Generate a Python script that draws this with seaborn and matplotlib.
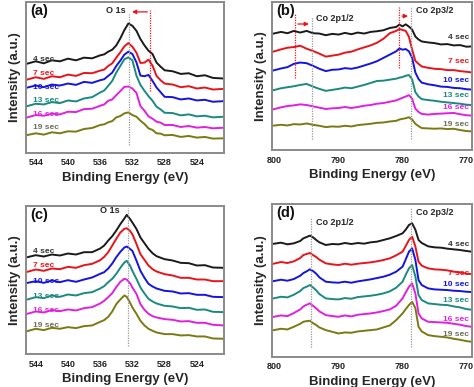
import numpy as np
import matplotlib
matplotlib.use("Agg")
import matplotlib.pyplot as plt
import seaborn as sns

sns.set_theme(style="white")
plt.rcParams['font.family'] = ['Liberation Sans', 'DejaVu Sans']
plt.rcParams['font.weight'] = 'bold'

# ---- data (intensities in arbitrary units) ----
times = ["4 sec", "7 sec", "10 sec", "13 sec", "16 sec", "19 sec"]
colors = ["#1a1a1a", "#e8141c", "#1414e0", "#1a8a80", "#e020e0", "#7a7a12"]
label_colors = ["#333333", "#e8141c", "#1414e0", "#1a8a80", "#e020e0", "#6e6e5a"]

# (a) O 1s
a_x = [545.2, 544, 543, 542, 541, 540, 539, 538, 537, 536, 535.5, 535, 534.5, 534,
       533.5, 533, 532.5, 532, 531.5, 531, 530.5, 530, 529.5, 529, 528.5, 528,
       527, 526, 525, 524, 523, 522, 520.6]
a_4s = [268, 276, 270, 279, 276, 284, 279, 287, 285, 294, 297, 305, 311, 324, 345, 370, 390,
        383, 368, 343, 324, 308, 298, 272, 260, 249, 246, 238, 240, 231, 234, 226, 224]
a_7s = [220, 228, 223, 231, 228, 236, 232, 241, 240, 248, 251, 262, 270, 287, 303, 321, 331,
        320, 302, 271, 272, 281, 263, 232, 219, 209, 206, 198, 201, 194, 197, 191, 193]
a_10s = [196, 203, 198, 206, 203, 209, 205, 214, 211, 219, 222, 232, 242, 262, 278, 296, 305,
         298, 273, 233, 231, 235, 217, 197, 183, 169, 168, 161, 164, 158, 160, 154, 156]
a_13s = [140, 148, 146, 153, 150, 158, 155, 164, 168, 182, 188, 202, 217, 242, 262, 282, 288,
         279, 233, 205, 187, 171, 157, 139, 131, 121, 120, 113, 116, 110, 112, 107, 109]
a_16s = [106, 114, 112, 118, 116, 124, 123, 132, 133, 142, 146, 157, 161, 174, 186, 199, 200,
         194, 181, 141, 127, 110, 103, 94, 91, 84, 84, 78, 81, 76, 78, 74, 76]
a_19s = [53, 59, 55, 62, 59, 65, 64, 72, 75, 84, 86, 92, 96, 107, 111, 119, 122,
         114, 109, 97, 87, 74, 69, 59, 58, 53, 54, 48, 51, 46, 48, 43, 44]

# (b) Co 2p
b_x = [800.4, 799, 798, 797, 796, 795, 794, 793, 792, 791, 790, 789, 788, 787, 786, 785,
       784, 783, 782, 781, 780.5, 780, 779.5, 779, 778.5, 778, 777.5, 777, 776, 775,
       774, 773, 772, 771, 770, 769.2]
b_4s = [353, 359, 355, 362, 357, 362, 355, 354, 349, 353, 351, 356, 352, 357, 354, 359, 361, 364,
        371, 374, 381, 376, 382, 375, 366, 345, 336, 330, 327, 325, 321, 322, 318, 319, 314, 315]
b_7s = [298, 306, 311, 313, 317, 308, 301, 293, 284, 287, 290, 296, 299, 306, 312, 318, 326, 338,
        355, 362, 368, 365, 362, 344, 305, 271, 262, 254, 250, 247, 246, 243, 243, 240, 238, 236]
b_10s = [241, 248, 252, 262, 266, 264, 256, 247, 240, 244, 245, 249, 247, 251, 257, 263, 270, 280,
         290, 300, 309, 305, 307, 300, 280, 236, 216, 205, 200, 197, 193, 192, 189, 188, 185, 184]
b_13s = [181, 188, 191, 194, 198, 201, 193, 186, 180, 183, 186, 190, 188, 193, 198, 204, 210, 211,
         214, 217, 220, 222, 226, 228, 215, 176, 163, 155, 152, 150, 147, 145, 143, 141, 138, 137]
b_16s = [123, 130, 134, 136, 139, 137, 133, 129, 125, 127, 128, 131, 128, 131, 135, 137, 141, 143,
         147, 151, 155, 159, 163, 167, 156, 126, 116, 110, 108, 110, 111, 112, 113, 109, 106, 105]
b_19s = [74, 77, 75, 79, 78, 81, 77, 74, 70, 72, 71, 74, 72, 76, 78, 80, 83, 84,
         87, 89, 93, 95, 97, 100, 93, 80, 73, 67, 66, 65, 66, 64, 65, 61, 58, 57]

# (c) O 1s
c_x = [545.2, 544, 543, 542, 541, 540, 539, 538, 537, 536, 535.5, 535, 534.5, 534,
       533.5, 533, 532.7, 532.3, 532, 531.5, 531, 530.5, 530, 529.5, 529, 528,
       527, 526, 525, 524, 523, 522, 520.6]
c_4s = [290, 297, 293, 299, 296, 302, 299, 306, 306, 317, 326, 341, 354, 371, 390, 407, 418,
        406, 395, 376, 350, 333, 316, 303, 294, 285, 281, 274, 273, 266, 267, 260, 259]
c_7s = [246, 254, 250, 257, 255, 262, 259, 267, 271, 282, 292, 306, 326, 346, 365, 376, 378,
        370, 360, 331, 300, 283, 266, 255, 248, 240, 236, 229, 229, 224, 224, 219, 219]
c_10s = [213, 219, 214, 221, 216, 222, 217, 224, 230, 241, 246, 257, 272, 291, 307, 320, 323,
         316, 310, 281, 250, 229, 211, 203, 197, 190, 188, 182, 183, 178, 178, 172, 171]
c_13s = [163, 171, 168, 176, 172, 179, 176, 183, 186, 197, 204, 216, 226, 241, 259, 275, 280,
         266, 250, 226, 200, 182, 166, 158, 152, 145, 143, 138, 139, 133, 134, 127, 126]
c_16s = [120, 128, 125, 132, 129, 134, 131, 138, 141, 152, 160, 171, 183, 201, 217, 226, 224,
         213, 200, 181, 150, 133, 121, 114, 110, 105, 103, 98, 99, 94, 94, 88, 86]
c_19s = [68, 76, 72, 79, 76, 81, 78, 84, 86, 97, 102, 112, 128, 150, 164, 176, 172,
         155, 140, 121, 100, 86, 76, 70, 65, 60, 60, 56, 57, 53, 53, 47, 46]

# (d) Co 2p
d_x = [800.4, 799, 798, 797, 796, 795.5, 795, 794.5, 794, 793.5, 793, 792, 791, 790, 789, 788,
       787, 786, 785, 784, 783, 782, 781, 780, 779.5, 779, 778.5, 778, 777.5, 777, 776,
       775, 774, 773, 772, 771, 770, 769.2]
d_4s = [338, 342, 337, 340, 347, 355, 359, 363, 358, 350, 343, 335, 338, 337, 341, 338, 341, 339, 343,
        345, 350, 355, 362, 370, 381, 395, 400, 381, 350, 341, 331, 328, 327, 324, 322, 320, 317, 315]
d_7s = [278, 284, 281, 286, 296, 305, 308, 311, 305, 299, 291, 280, 277, 275, 279, 276, 279, 281, 283,
        286, 290, 295, 304, 315, 332, 350, 360, 331, 285, 273, 265, 262, 261, 259, 255, 253, 249, 248]
d_10s = [226, 231, 228, 233, 243, 251, 256, 262, 257, 249, 238, 225, 223, 222, 225, 222, 226, 229, 232,
         236, 240, 246, 255, 270, 292, 315, 325, 291, 230, 215, 205, 202, 201, 200, 198, 197, 195, 194]
d_13s = [174, 180, 178, 186, 197, 206, 210, 215, 208, 199, 188, 175, 173, 172, 176, 174, 179, 181, 183,
         186, 190, 196, 207, 225, 246, 265, 275, 241, 185, 170, 160, 158, 156, 155, 151, 148, 143, 141]
d_16s = [119, 124, 122, 131, 142, 151, 156, 160, 153, 145, 136, 125, 122, 120, 124, 121, 126, 128, 130,
         133, 137, 142, 153, 175, 193, 210, 220, 190, 130, 115, 105, 104, 103, 102, 99, 96, 92, 90]
d_19s = [79, 84, 82, 90, 99, 105, 107, 108, 101, 95, 88, 80, 75, 70, 73, 72, 76, 78, 80,
         82, 88, 94, 110, 130, 143, 155, 165, 146, 90, 76, 65, 62, 60, 58, 54, 51, 47, 45]

# label heights (same units as intensities)
a_lab_y = [282, 238, 198, 158, 117, 75]
b_lab_y = [343, 268, 212, 167, 128, 77]
c_lab_y = [307, 267, 218, 172, 130, 87]
d_lab_y = [337, 250, 217, 168, 112, 68]

fig = plt.figure(figsize=(4.74, 3.87), dpi=100)
ax_a = fig.add_axes([0.055, 0.605, 0.418, 0.390])
ax_b = fig.add_axes([0.574, 0.612, 0.421, 0.383])
ax_c = fig.add_axes([0.055, 0.085, 0.418, 0.383])
ax_d = fig.add_axes([0.574, 0.078, 0.421, 0.395])


def style_axis(ax, xlim, ylim, ticks, letter):
    ax.set_xlim(*xlim)
    ax.set_ylim(*ylim)
    ax.set_xticks(ticks)
    ax.set_yticks([])
    ax.tick_params(axis='x', direction='in', length=3, width=1, color='#888888',
                   labelsize=6.5, pad=4, labelcolor='#222222')
    for lab in ax.get_xticklabels():
        lab.set_fontweight('bold')
    for sp in ax.spines.values():
        sp.set_color('#8a8a8a')
        sp.set_linewidth(1.4)
    ax.set_xlabel('Binding Energy (eV)', fontsize=9.5, fontweight='bold', labelpad=3)
    ax.set_ylabel('Intensity (a.u.)', fontsize=9.5, fontweight='bold', labelpad=4)
    ax.text(0.02, 0.985, letter, transform=ax.transAxes, ha='left', va='top',
            fontsize=10.5, fontweight='bold', color='#111111')


def draw_curves(ax, x, curves):
    for ys, c in zip(curves, colors):
        sns.lineplot(x=x, y=ys, ax=ax, color=c, linewidth=1.4, sort=False)


def vline(ax, x, y0, y1, color):
    ax.plot([x, x], [y0, y1], color=color, linestyle=(0, (1, 1)), linewidth=0.9)


# (a)
draw_curves(ax_a, a_x, [a_4s, a_7s, a_10s, a_13s, a_16s, a_19s])
style_axis(ax_a, (545.2, 520.6), (0, 455), [544, 540, 536, 532, 528, 524], '(a)')
vline(ax_a, 532.4, 25, 420, '#999999')
vline(ax_a, 529.8, 185, 430, '#e8141c')
ax_a.annotate('', xy=(532.4, 425), xytext=(529.8, 425),
              arrowprops=dict(arrowstyle='-|>', color='#e8141c', lw=0.9, mutation_scale=6))
ax_a.text(534.1, 428, 'O 1s', ha='center', va='center', fontsize=6.5, fontweight='bold')
for t, c, y in zip(times, label_colors, a_lab_y):
    ax_a.text(544.3, y, t, ha='left', va='center', fontsize=6, fontweight='bold', color=c)

# (b)
draw_curves(ax_b, b_x, [b_4s, b_7s, b_10s, b_13s, b_16s, b_19s])
style_axis(ax_b, (800.4, 769.2), (0, 450), [800, 790, 780, 770], '(b)')
vline(ax_b, 794.2, 35, 405, '#999999')
vline(ax_b, 778.7, 35, 435, '#999999')
vline(ax_b, 796.8, 220, 415, '#e8141c')
vline(ax_b, 780.5, 250, 435, '#e8141c')
ax_b.annotate('', xy=(794.2, 383), xytext=(796.8, 383),
              arrowprops=dict(arrowstyle='-|>', color='#e8141c', lw=0.9, mutation_scale=6))
ax_b.annotate('', xy=(778.7, 407), xytext=(780.5, 407),
              arrowprops=dict(arrowstyle='-|>', color='#e8141c', lw=0.9, mutation_scale=6))
ax_b.text(793.6, 400, 'Co 2p1/2', ha='left', va='center', fontsize=6.5, fontweight='bold')
ax_b.text(777.9, 425, 'Co 2p3/2', ha='left', va='center', fontsize=6.5, fontweight='bold')
for t, c, y in zip(times, label_colors, b_lab_y):
    ax_b.text(769.6, y, t, ha='right', va='center', fontsize=6, fontweight='bold', color=c)

# (c)
draw_curves(ax_c, c_x, [c_4s, c_7s, c_10s, c_13s, c_16s, c_19s])
style_axis(ax_c, (545.2, 520.6), (0, 445), [544, 540, 536, 532, 528, 524], '(c)')
vline(ax_c, 532.5, 25, 440, '#999999')
ax_c.text(534.8, 432, 'O 1s', ha='center', va='center', fontsize=6.5, fontweight='bold')
for t, c, y in zip(times, label_colors, c_lab_y):
    ax_c.text(544.3, y, t, ha='left', va='center', fontsize=6, fontweight='bold', color=c)

# (d)
draw_curves(ax_d, d_x, [d_4s, d_7s, d_10s, d_13s, d_16s, d_19s])
style_axis(ax_d, (800.4, 769.2), (0, 458), [800, 790, 780, 770], '(d)')
vline(ax_d, 794.3, 30, 415, '#999999')
vline(ax_d, 778.7, 30, 450, '#999999')
ax_d.text(793.6, 402, 'Co 2p1/2', ha='left', va='center', fontsize=6.5, fontweight='bold')
ax_d.text(777.9, 432, 'Co 2p3/2', ha='left', va='center', fontsize=6.5, fontweight='bold')
for t, c, y in zip(times, label_colors, d_lab_y):
    ax_d.text(769.6, y, t, ha='right', va='center', fontsize=6, fontweight='bold', color=c)

fig.savefig('out.png', dpi=100)
